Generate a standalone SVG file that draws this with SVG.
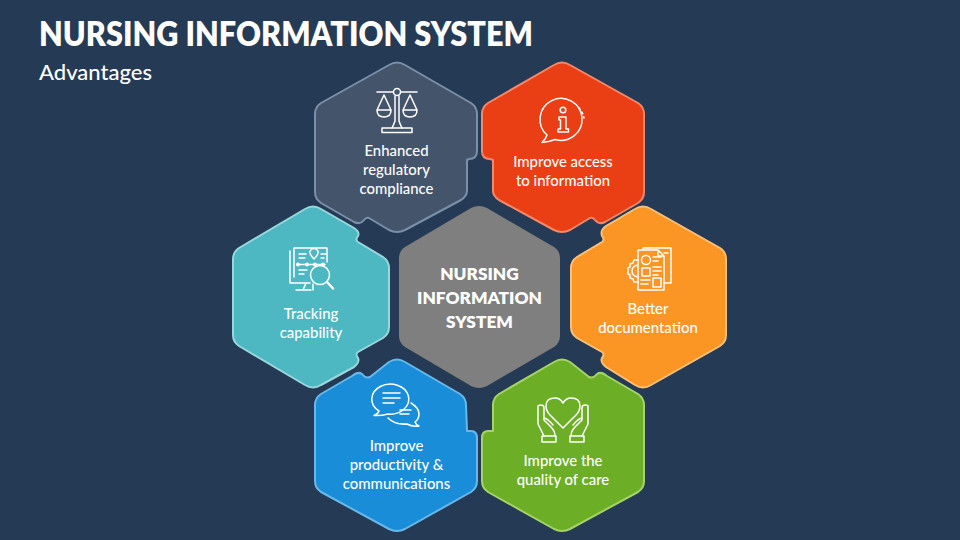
<svg xmlns="http://www.w3.org/2000/svg" width="960" height="540" viewBox="0 0 960 540">
<style>
.hex{stroke-width:2;stroke-linejoin:round}
.lbl{font-family:"Lato","Open Sans","Liberation Sans",sans-serif;font-size:14.900px;font-weight:500;fill:#fff;text-anchor:middle}
.ctr{font-family:"Lato","Open Sans","Liberation Sans",sans-serif;font-size:17.300px;font-weight:800;fill:#fff;text-anchor:middle}
.ico{fill:none;stroke:#fff;stroke-width:1.5;stroke-linejoin:round;stroke-linecap:round}
.icf{fill:#fff;stroke:none}
.title{font-family:"Lato","Open Sans","Liberation Sans",sans-serif;font-weight:800;fill:#fff}
</style>
<rect width="960" height="540" fill="#253a54"/>
<text class="title" x="39" y="46" font-size="33" textLength="494" lengthAdjust="spacingAndGlyphs">NURSING INFORMATION SYSTEM</text>
<text x="39" y="80" font-family="Lato,Open Sans,Liberation Sans,sans-serif" font-size="21" font-weight="500" fill="#fff" textLength="113" lengthAdjust="spacingAndGlyphs">Advantages</text>

<g id="node-center">
<path d="M471,208 Q479,204 487,208 L554,247 Q560,251 560,258 L560,336 Q560,343 554,347 L487,386 Q479,390 471,386 L405,347 Q399,343 399,336 L399,258 Q399,251 405,247 Z" fill="#7f7f7f"/>
<text class="ctr" x="479.500" y="279.500">NURSING</text>
<text class="ctr" x="479.500" y="303.500">INFORMATION</text>
<text class="ctr" x="479.500" y="327.500">SYSTEM</text>
</g>

<g id="node-compliance">
<path class="hex" d="M389,65 Q397,60 405,65 L471,103 Q477,107 477,114 L477,151 Q477,159 469,159 L467,160 L467,191 Q467,196 461,200 L405,230 Q397,234 389,230 L369,218 Q366,217 364,220 Q360,225 354,222 L321,203 Q315,199 315,192 L315,114 Q315,107 321,103 Z" fill="#44546a" stroke="#7a90a9"/>
<g class="ico">
<path d="M377,92 H393 M401,92 H417"/><circle cx="397" cy="92" r="3.500"/>
<path d="M395,96 V121 Q394,124 392,128 M399,96 V121 Q400,124 402,128"/>
<rect x="382" y="128" width="30" height="4.500"/>
<path d="M384,95 L377,110 H391 Z M377,110 Q377,117 384,117 Q391,117 391,110"/>
<path d="M410,95 L403,110 H417 Z M403,110 Q403,117 410,117 Q417,117 417,110"/>
</g>
<text class="lbl" x="396.500" y="156">Enhanced</text>
<text class="lbl" x="396.500" y="175">regulatory</text>
<text class="lbl" x="396.500" y="193.500">compliance</text>
</g>

<g id="node-access">
<path class="hex" d="M570,65 Q562,60 554,65 L488,103 Q482,107 482,114 L482,151 Q482,159 490,159 L493,160 L493,191 Q493,196 499,200 L554,230 Q562,234 570,230 L590,218 Q593,217 595,220 Q599,225 605,222 L638,203 Q644,199 644,192 L644,114 Q644,107 638,103 Z" fill="#ea3e14" stroke="#f5886a"/>
<g class="ico">
<path d="M547,135 A21,21 0 1 1 555,139.500 Q549,142 542,142.500 Q546,139 547,135 Z"/>
<path d="M579,108 A20,20 0 0 1 584,118" stroke-dasharray="2 3"/>
<circle cx="563" cy="110" r="2.800"/>
<path d="M559,117 H566 V129 H568.500 V132 H558 V129 H560.500 V120 H559 Z"/>
</g>
<text class="lbl" x="563" y="167">Improve access</text>
<text class="lbl" x="563" y="186">to information</text>
</g>

<g id="node-tracking">
<path class="hex" d="M305,209 Q313,204 321,209 L354,228 Q360,232 358,236 Q355,240 358,242 L383,257 Q389,261 389,268 L389,327 Q389,334 383,338 L358,352 Q355,354 358,358 Q360,362 354,367 L321,385 Q313,390 305,385 L239,346 Q233,342 233,335 L233,259 Q233,252 239,248 Z" fill="#4db8c1" stroke="#98d8dd"/>
<g class="ico">
<path d="M294,277 V248 H327 V262"/>
<path d="M290,251 V283 H310"/>
<path d="M303,290 L306,283 M296,290 H311 M313,284 V290"/>
<path d="M299,254 H306 M299,258 H305 M321,254 H326 M321,258 H324 M299,270 H307 M299,274 H304"/>
<path d="M297,264.500 H325"/>
<path d="M314,259 Q309,254 310,251 A4.500,4.500 0 0 1 318,251 Q319,254 314,259 Z"/>
<circle cx="320" cy="275" r="9.500"/>
<path d="M327,282 L333,288.500" stroke-width="2.500"/>
</g>
<g class="icf"><circle cx="298" cy="264.500" r="2"/><circle cx="307" cy="264.500" r="2"/><circle cx="315" cy="264.500" r="2"/><circle cx="323" cy="264.500" r="2"/></g>
<text class="lbl" x="311" y="319">Tracking</text>
<text class="lbl" x="311" y="338">capability</text>
</g>

<g id="node-documentation">
<path class="hex" d="M651,209 Q643,204 635,209 L606,226 Q600,230 602,236 Q605,240 602,242 L577,257 Q571,261 571,268 L571,327 Q571,334 577,338 L602,352 Q605,354 602,358 Q600,362 606,367 L635,385 Q643,390 651,385 L720,346 Q726,342 726,335 L726,259 Q726,252 720,248 Z" fill="#fb9624" stroke="#fdc07a"/>
<g class="ico">
<path d="M638,290 V250 H658 L664,256 V290 Z M658,250 V256 H664"/>
<path d="M643,250 V248 H671 V283 H664 M664,253 H668"/>
<circle cx="646" cy="260" r="4.500"/>
<rect x="642" y="268" width="8" height="8"/>
<rect x="653" y="278" width="8" height="9"/>
<path d="M653,257 H661 M653,261 H658 M653,267 H661 M653,271 H661 M653,275 H658 M641,280 H650 M641,284 H648"/>
<path d="M638,260 L634,260 L633,263 L630,264 L630,267 L628,268 V274 L630,275 L630,278 L633,279 L634,282 L638,282"/>
<path d="M638,265 Q632,266 632,271 Q632,276 638,277"/>
</g>
<text class="lbl" x="648" y="314">Better</text>
<text class="lbl" x="648" y="333">documentation</text>
</g>

<g id="node-productivity">
<path class="hex" d="M389,362 Q397,357 405,362 L460,394 Q466,398 466,405 L467,431 H471 Q477,431 477,438 L477,481 Q477,488 471,492 L405,529 Q397,533 389,529 L321,492 Q315,488 315,481 L315,405 Q315,398 321,394 L352,376 Q358,371 362,374 Q366,379 370,377 Z" fill="#1a8dd8" stroke="#68b9ea"/>
<g class="ico">
<path d="M379,411 A18.500,15 0 1 1 388,414 Q381,416 374,415.500 Q378,414 379,411 Z"/>
<path d="M383,393 H400 M383,398 H400 M383,403 H394"/>
<path d="M411,403 Q419,408 419,414 Q419,419 415,422 Q416,425 419,426 Q412,427 407,424 Q395,425 388,418"/>
<path d="M400,410 H411 M400,414 H409"/>
</g>
<text class="lbl" x="396.500" y="451">Improve</text>
<text class="lbl" x="396.500" y="470">productivity &amp;</text>
<text class="lbl" x="396.500" y="489">communications</text>
</g>

<g id="node-care">
<path class="hex" d="M570,362 Q562,357 554,362 L499,394 Q493,398 493,405 L493,431 H488 Q482,431 482,438 L482,481 Q482,488 488,492 L554,529 Q562,533 570,529 L638,492 Q644,488 644,481 L644,405 Q644,398 638,394 L607,376 Q601,371 597,374 Q593,379 589,377 Z" fill="#6dae27" stroke="#a6d368"/>
<g class="ico">
<path d="M563,428 L550,415 Q546,411 546,406 Q546,398 555,398 Q560,398 563,403 Q566,398 571,398 Q580,398 580,406 Q580,411 576,415 Z"/>
<rect x="542" y="436" width="14" height="6"/>
<rect x="570" y="436" width="14" height="6"/>
<path d="M544,436 L538,424 V406 Q538,405 541,405 Q544,405 544,408 V420 L551,427 Q555,431 555,436"/>
<path d="M544,418 Q547,418 553,425"/>
<path d="M582,436 L588,424 V406 Q588,405 585,405 Q582,405 582,408 V420 L575,427 Q571,431 571,436"/>
<path d="M582,418 Q579,418 573,425"/>
</g>
<text class="lbl" x="563" y="466">Improve the</text>
<text class="lbl" x="563" y="485">quality of care</text>
</g>
</svg>
